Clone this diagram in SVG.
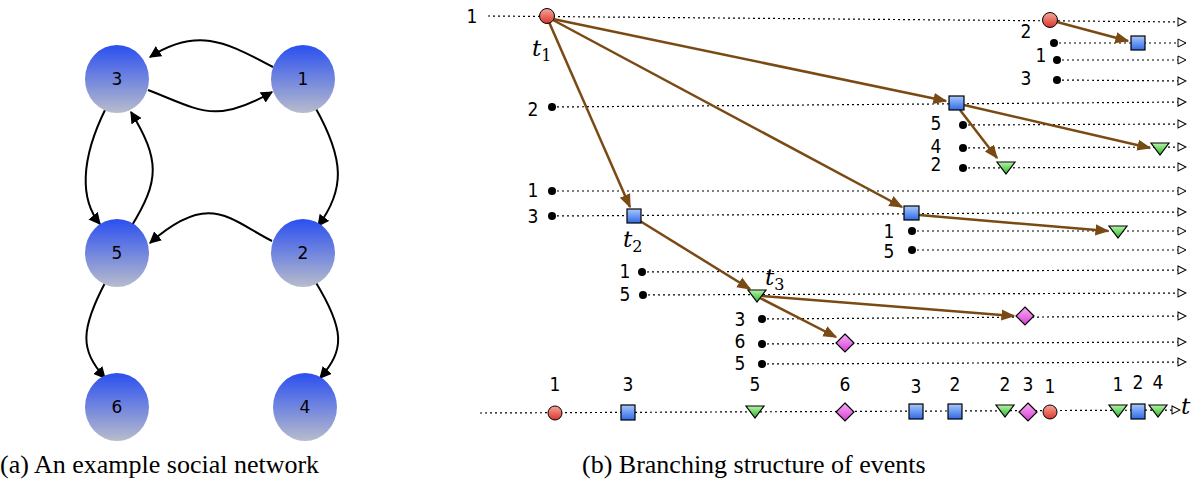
<svg xmlns="http://www.w3.org/2000/svg" width="1200" height="491" viewBox="0 0 1200 491">
<defs>
<linearGradient id="gn" x1="0" y1="0" x2="0" y2="1"><stop offset="0" stop-color="#2a4ff0"/><stop offset="1" stop-color="#b8bccc"/></linearGradient>
<linearGradient id="gr" x1="0" y1="0" x2="0" y2="1"><stop offset="0" stop-color="#f7a69a"/><stop offset="1" stop-color="#d9362a"/></linearGradient>
<linearGradient id="gb" x1="0" y1="0" x2="0" y2="1"><stop offset="0" stop-color="#a9c8fb"/><stop offset="1" stop-color="#2f6be6"/></linearGradient>
<linearGradient id="gg" x1="0" y1="0" x2="0" y2="1"><stop offset="0" stop-color="#b5f3a8"/><stop offset="1" stop-color="#2fb52a"/></linearGradient>
<linearGradient id="gp" x1="0" y1="0" x2="0" y2="1"><stop offset="0" stop-color="#f6b0f3"/><stop offset="1" stop-color="#d93bd6"/></linearGradient>
<marker id="ab" viewBox="0 0 10 10" refX="9" refY="5" markerWidth="12" markerHeight="12" markerUnits="userSpaceOnUse" orient="auto"><path d="M0,0L10,5L0,10z" fill="#000"/></marker>
<marker id="ao" viewBox="0 0 10 10" refX="9" refY="5" markerWidth="10" markerHeight="10" markerUnits="userSpaceOnUse" orient="auto"><path d="M1,1L9,5L1,9z" fill="#fff" stroke="#000" stroke-width="1"/></marker>
<marker id="abr" viewBox="0 0 10 10" refX="9" refY="5" markerWidth="14" markerHeight="14" markerUnits="userSpaceOnUse" orient="auto"><path d="M0,1L10,5L0,9z" fill="#7a4a14"/></marker>
</defs>
<style>
.nl{font-family:"DejaVu Sans",sans-serif;font-size:17px;text-anchor:middle}
.lb{font-family:"DejaVu Sans Condensed","DejaVu Sans",sans-serif;font-size:19px;text-anchor:middle}
.tt{font-family:"DejaVu Serif","Liberation Serif",serif;font-size:23px;font-style:italic}
.sub{font-size:16px;font-style:normal}
.cap{font-family:"Liberation Serif",serif;font-size:26px}
.e{fill:none;stroke:#000;stroke-width:2;marker-end:url(#ab)}
.dl{stroke:#000;stroke-width:1.2;stroke-dasharray:2 3;marker-end:url(#ao)}
.br{stroke:#7a4a14;stroke-width:2.5;marker-end:url(#abr)}
.c{fill:url(#gr);stroke:#000;stroke-width:1}
.s{fill:url(#gb);stroke:#000;stroke-width:1.2}
.g{fill:url(#gg);stroke:#000;stroke-width:1.2}
.p{fill:url(#gp);stroke:#000;stroke-width:1.2}
.n{fill:url(#gn)}
</style>
<g id="edges-a">
<path class="e" d="M273,67 C230,45 200,25 150,57"/>
<path class="e" d="M148,90 C200,110 215,125 272,92"/>
<path class="e" d="M106,108 C80,160 80,200 100,224"/>
<path class="e" d="M131,227 C160,180 160,160 131,112"/>
<path class="e" d="M272,241 C230,220 210,190 150,243"/>
<path class="e" d="M315,107 C345,160 345,190 318,226"/>
<path class="e" d="M106,281 C80,330 80,350 105,378"/>
<path class="e" d="M315,281 C345,330 345,350 320,378"/>
</g>
<g id="n3"><ellipse class="n" cx="117" cy="79" rx="32" ry="34"/><text class="nl" x="117" y="85">3</text></g>
<g id="n1"><ellipse class="n" cx="303" cy="79" rx="32" ry="34"/><text class="nl" x="303" y="85">1</text></g>
<g id="n5"><ellipse class="n" cx="117" cy="253" rx="32" ry="34"/><text class="nl" x="117" y="259">5</text></g>
<g id="n2"><ellipse class="n" cx="303" cy="253" rx="32" ry="34"/><text class="nl" x="303" y="259">2</text></g>
<g id="n6"><ellipse class="n" cx="117" cy="407" rx="32" ry="34"/><text class="nl" x="117" y="413">6</text></g>
<g id="n4"><ellipse class="n" cx="305" cy="407" rx="32" ry="34"/><text class="nl" x="305" y="413">4</text></g>
<text class="cap" x="0" y="473">(a) An example social network</text>
<g id="lines">
<line class="dl" x1="488" y1="16" x2="1186" y2="22"/>
<line class="dl" x1="1054" y1="43" x2="1186" y2="43"/>
<line class="dl" x1="1057" y1="60" x2="1186" y2="60"/>
<line class="dl" x1="1057" y1="80" x2="1186" y2="81"/>
<line class="dl" x1="552" y1="107" x2="1186" y2="102"/>
<line class="dl" x1="963" y1="125" x2="1186" y2="124"/>
<line class="dl" x1="963" y1="148" x2="1186" y2="147"/>
<line class="dl" x1="963" y1="168" x2="1186" y2="167"/>
<line class="dl" x1="552" y1="191" x2="1186" y2="191"/>
<line class="dl" x1="552" y1="216" x2="1186" y2="212"/>
<line class="dl" x1="912" y1="231" x2="1186" y2="231"/>
<line class="dl" x1="912" y1="250" x2="1186" y2="250"/>
<line class="dl" x1="642" y1="272" x2="1186" y2="270"/>
<line class="dl" x1="643" y1="295" x2="1186" y2="293"/>
<line class="dl" x1="762" y1="319" x2="1186" y2="316"/>
<line class="dl" x1="762" y1="344" x2="1186" y2="342"/>
<line class="dl" x1="762" y1="364" x2="1186" y2="362"/>
<line class="dl" x1="480" y1="413" x2="1180" y2="410"/>
</g>
<g id="dots" fill="#000">
<circle cx="1054" cy="43" r="4"/><circle cx="1057" cy="60" r="4"/><circle cx="1057" cy="80" r="4"/>
<circle cx="552" cy="107" r="4"/><circle cx="963" cy="125" r="4"/><circle cx="963" cy="148" r="4"/><circle cx="963" cy="168" r="4"/>
<circle cx="552" cy="191" r="4"/><circle cx="552" cy="216" r="4"/><circle cx="912" cy="231" r="4"/><circle cx="912" cy="250" r="4"/>
<circle cx="642" cy="272" r="4"/><circle cx="643" cy="295" r="4"/><circle cx="762" cy="319" r="4"/><circle cx="762" cy="344" r="4"/><circle cx="762" cy="364" r="4"/>
</g>
<g id="labels" class="lb">
<text x="472" y="23">1</text>
<text x="1026" y="38">2</text><text x="1041" y="62">1</text><text x="1026" y="85">3</text>
<text x="533" y="116">2</text>
<text x="936" y="130">5</text><text x="936" y="153">4</text><text x="936" y="171">2</text>
<text x="533" y="197">1</text><text x="533" y="223">3</text>
<text x="889" y="238">1</text><text x="889" y="258">5</text>
<text x="625" y="278">1</text><text x="625" y="301">5</text>
<text x="740" y="326">3</text><text x="740" y="348">6</text><text x="740" y="370">5</text>
<text x="555" y="391">1</text><text x="628" y="391">3</text><text x="755" y="391">5</text><text x="845" y="391">6</text>
<text x="916" y="393">3</text><text x="955" y="391">2</text><text x="1005" y="391">2</text><text x="1028" y="391">3</text><text x="1050" y="393">1</text>
<text x="1118" y="391">1</text><text x="1138" y="389">2</text><text x="1158" y="389">4</text>
</g>
<text class="tt" x="532" y="56">t<tspan class="sub" dy="5">1</tspan></text>
<text class="tt" x="623" y="247">t<tspan class="sub" dy="5">2</tspan></text>
<text class="tt" x="765" y="285">t<tspan class="sub" dy="5">3</tspan></text>
<text class="tt" x="1181" y="414">t</text>
<g id="connectors">
<line class="br" x1="549" y1="22" x2="630" y2="207"/>
<line class="br" x1="553" y1="19" x2="946" y2="101"/>
<line class="br" x1="553" y1="20" x2="902" y2="207"/>
<line class="br" x1="640" y1="221" x2="750" y2="289"/>
<line class="br" x1="760" y1="298" x2="836" y2="337"/>
<line class="br" x1="762" y1="296" x2="1014" y2="316"/>
<line class="br" x1="960" y1="110" x2="997" y2="158"/>
<line class="br" x1="964" y1="105" x2="1150" y2="148"/>
<line class="br" x1="919" y1="215" x2="1108" y2="231"/>
<line class="br" x1="1057" y1="22" x2="1128" y2="41"/>
</g>
<g id="events">
<circle class="c" cx="547" cy="16" r="7.5"/>
<circle class="c" cx="1050" cy="20" r="7.5"/>
<rect class="s" x="1131" y="36" width="14" height="14"/>
<rect class="s" x="949" y="96" width="15" height="14"/>
<rect class="s" x="904" y="206" width="15" height="14"/>
<rect class="s" x="627" y="209" width="14" height="14"/>
<path class="g" d="M997,162L1015,162L1006,174z"/>
<path class="g" d="M1151,143L1169,143L1160,155z"/>
<path class="g" d="M1109,226L1127,226L1118,238z"/>
<path class="g" d="M748,290L766,290L757,302z"/>
<path class="p" d="M1025,307L1034,316L1025,325L1016,316z"/>
<path class="p" d="M845,334L854,343L845,352L836,343z"/>
<circle class="c" cx="555" cy="413" r="7"/>
<rect class="s" x="621" y="405" width="14" height="15"/>
<path class="g" d="M746,406L764,406L755,418z"/>
<path class="p" d="M845,403L854,412L845,421L836,412z"/>
<rect class="s" x="909" y="404" width="14" height="15"/>
<rect class="s" x="948" y="404" width="14" height="15"/>
<path class="g" d="M996,405L1014,405L1005,417z"/>
<path class="p" d="M1028,403L1037,412L1028,421L1019,412z"/>
<circle class="c" cx="1050" cy="412" r="7"/>
<path class="g" d="M1109,405L1127,405L1118,417z"/>
<rect class="s" x="1131" y="404" width="14" height="15"/>
<path class="g" d="M1149,405L1167,405L1158,417z"/>
</g>
<text class="cap" x="582" y="473">(b) Branching structure of events</text>
</svg>
